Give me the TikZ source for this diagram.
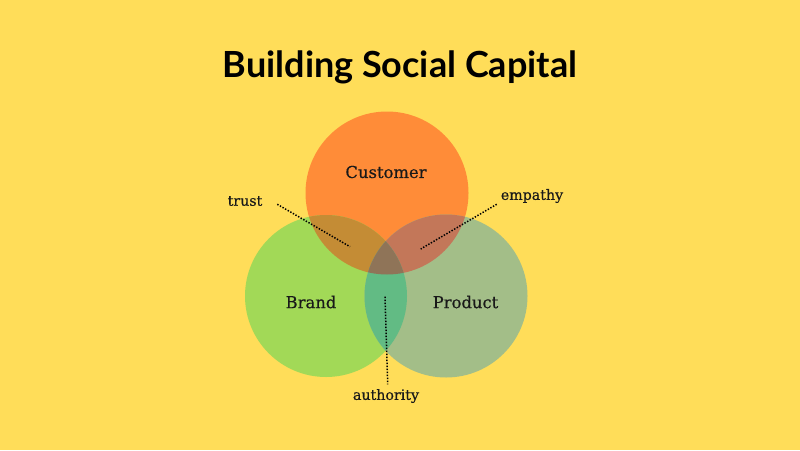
\documentclass[tikz,border=0pt]{standalone}
\usepackage{fontspec}
\setmainfont{Lato}
\newfontfamily\slab[FakeBold=0.4]{DejaVu Serif}
\definecolor{bg}{HTML}{FFDD59}
\definecolor{custc}{HTML}{FF8C38}
\definecolor{brandc}{HTML}{A2D957}
\definecolor{prodc}{HTML}{A3BE88}
\definecolor{bcc}{HTML}{C48C35}
\definecolor{cpc}{HTML}{C37759}
\definecolor{bpc}{HTML}{62BB84}
\definecolor{allc}{HTML}{8F7458}
\tikzset{
  big/.style={font=\slab\fontsize{16.4}{18}\selectfont, text=black!90, inner sep=0pt},
  small/.style={font=\slab\fontsize{14.2}{16}\selectfont, text=black!90, inner sep=0pt},
  dotline/.style={line width=1.5pt, dash pattern=on 1.4pt off 1.6pt, black},
}
\begin{document}
\begin{tikzpicture}[x=1pt,y=-1pt]
\fill[bg] (0,0) rectangle (800,450);
\useasboundingbox (0,0) rectangle (800,450);
\coordinate (C) at (387,193);
\coordinate (B) at (326,296);
\coordinate (P) at (446,296);
\fill[custc] (C) circle[radius=81.5pt];
\fill[brandc] (B) circle[radius=81pt];
\fill[prodc] (P) circle[radius=81.5pt];
\begin{scope}
  \clip (C) circle[radius=81.5pt];
  \fill[bcc] (B) circle[radius=81pt];
  \fill[cpc] (P) circle[radius=81.5pt];
\end{scope}
\begin{scope}
  \clip (B) circle[radius=81pt];
  \fill[bpc] (P) circle[radius=81.5pt];
  \clip (P) circle[radius=81.5pt];
  \fill[allc] (C) circle[radius=81.5pt];
\end{scope}
\node[font=\bfseries\fontsize{36}{40}\selectfont, inner sep=0pt] (title) at (400,67.5) {Building Social Capital};
\node[big] (cust) at (386,172) {Customer};
\node[big] (brand) at (311,302) {Brand};
\node[big] (prod) at (465.5,302) {Product};
\node[small] (trust) at (245,201) {trust};
\node[small] (emp) at (532,196) {empathy};
\node[small] (auth) at (386,396) {authority};
\coordinate (t1) at (277.3,204.3);
\coordinate (t2) at (350,246.7);
\coordinate (e1) at (496.7,204.3);
\coordinate (e2) at (420.7,249);
\coordinate (a1) at (385,296.7);
\coordinate (a2) at (387.7,384.3);
\draw[dotline] (t1) -- (t2);
\draw[dotline] (e1) -- (e2);
\draw[dotline] (a1) -- (a2);
\end{tikzpicture}
\end{document}
